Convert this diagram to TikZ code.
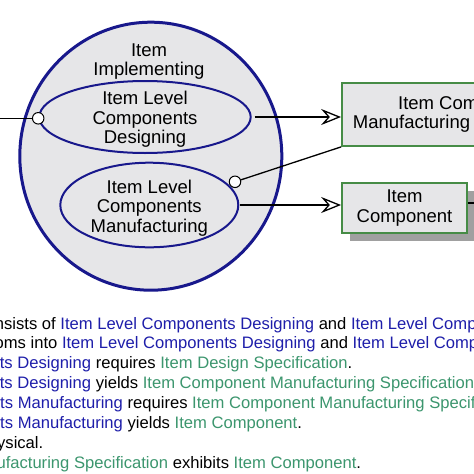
\documentclass[tikz,border=0pt]{standalone}
\usepackage{fontspec}
\setmainfont{Liberation Sans}
\usetikzlibrary{shapes.geometric,arrows.meta,shadows}
\definecolor{procblue}{RGB}{24,24,140}
\definecolor{opmgreen}{RGB}{70,140,70}
\definecolor{opmgray}{RGB}{230,230,232}
\definecolor{shadowgray}{RGB}{160,160,160}
\definecolor{textblue}{RGB}{30,30,170}
\definecolor{textgreen}{RGB}{60,150,110}
\newcommand{\procname}[1]{\textcolor{textblue}{#1}}
\newcommand{\objname}[1]{\textcolor{textgreen}{#1}}
\tikzset{
    diagfont/.style={font=\fontsize{18.5}{19.5}\selectfont},
    process/.style={ellipse, draw=procblue, fill=opmgray, line width=2pt, inner sep=0pt},
    proctext/.style={diagfont, align=center, inner sep=0pt},
    object/.style={rectangle, draw=opmgreen, fill=opmgray, line width=1.8pt, align=center, diagfont},
    port/.style={circle, draw=black, fill=white, line width=1pt, minimum size=11.5pt, inner sep=0pt},
    link/.style={line width=1.3pt},
    yields/.style={link, -{Stealth[length=20pt, width=16pt, inset=7pt, fill=white]}},
    opl/.style={font=\fontsize{16.6}{19.85}\selectfont, anchor=base west, inner sep=0pt}
}
\begin{document}
\begin{tikzpicture}[x=1pt, y=-1pt]
    \useasboundingbox (0,0) rectangle (474,474);
    \fill[white] (0,0) rectangle (474,474);
    \clip (0,0) rectangle (474,474);

    \node[process, line width=3pt, minimum width=262pt, minimum height=268pt] (implementing) at (150.8,156.2) {};
    \node[proctext] (implementingTitle) at (149,61.5) {Item\\Implementing};
    \node[process, minimum width=211.4pt, minimum height=72pt,
          label={[name=designingText, proctext, yshift=-2.5pt]center:{Item Level\\Components\\Designing}}] (designing) at (145,117) {};
    \node[process, minimum width=178pt, minimum height=84.6pt,
          label={[name=manufacturingText, proctext, yshift=-3pt]center:{Item Level\\Components\\Manufacturing}}] (manufacturing) at (149.3,205) {};

    \node[object, minimum width=249pt, minimum height=63pt] (mfgSpec) at (466.5,114.5) {Item Component\\Manufacturing Specification};
    \node[object, minimum width=125pt, minimum height=50pt,
          drop shadow={shadow xshift=7.5pt, shadow yshift=-7.5pt, fill=shadowgray, opacity=1}] (component) at (404.5,208) {Item\\Component};

    \node[port] (designingPort) at (38.2,118.3) {};
    \node[port] (manufacturingPort) at (235,181.8) {};
    \coordinate (leftEnd) at (-5,118.3);
    \coordinate (rightEnd) at (490,203);

    \draw[link] (leftEnd) -- (designingPort);
    \draw[link] (manufacturingPort) -- (mfgSpec.south west);
    \draw[yields] ([xshift=3pt]designing.east) -- (designing.east -| mfgSpec.west);
    \draw[yields] ([xshift=1pt]manufacturing.east) -- (manufacturing.east -| component.west);
    \draw[link] (rightEnd -| component.east) -- (rightEnd);

    \node[opl] (oplConsists) at (60.2,329) {\llap{\procname{Item Implementing} consists of }\procname{Item Level Components Designing} and \procname{Item Level Components Manufacturing}.};
    \node[opl] (oplZooms) at (61.8,348.9) {\llap{\procname{Item Implementing} zooms into }\procname{Item Level Components Designing} and \procname{Item Level Components Manufacturing}.};
    \node[opl] (oplDesignReq) at (95.6,368.7) {\llap{\procname{Item Level Components Designing} }requires \objname{Item Design Specification}.};
    \node[opl] (oplDesignYields) at (95.6,388.6) {\llap{\procname{Item Level Components Designing} }yields \objname{Item Component Manufacturing Specification}.};
    \node[opl] (oplMfgReq) at (127.4,408.4) {\llap{\procname{Item Level Components Manufacturing} }requires \objname{Item Component Manufacturing Specification}.};
    \node[opl] (oplMfgYields) at (127.4,428.3) {\llap{\procname{Item Level Components Manufacturing} }yields \objname{Item Component}.};
    \node[opl, anchor=base east] (oplPhysical) at (43.5,448.1) {\objname{Item Component} is physical.};
    \node[opl] (oplExhibits) at (172.6,468) {\llap{\objname{Item Component Manufacturing Specification} }exhibits \objname{Item Component}.};
\end{tikzpicture}
\end{document}
